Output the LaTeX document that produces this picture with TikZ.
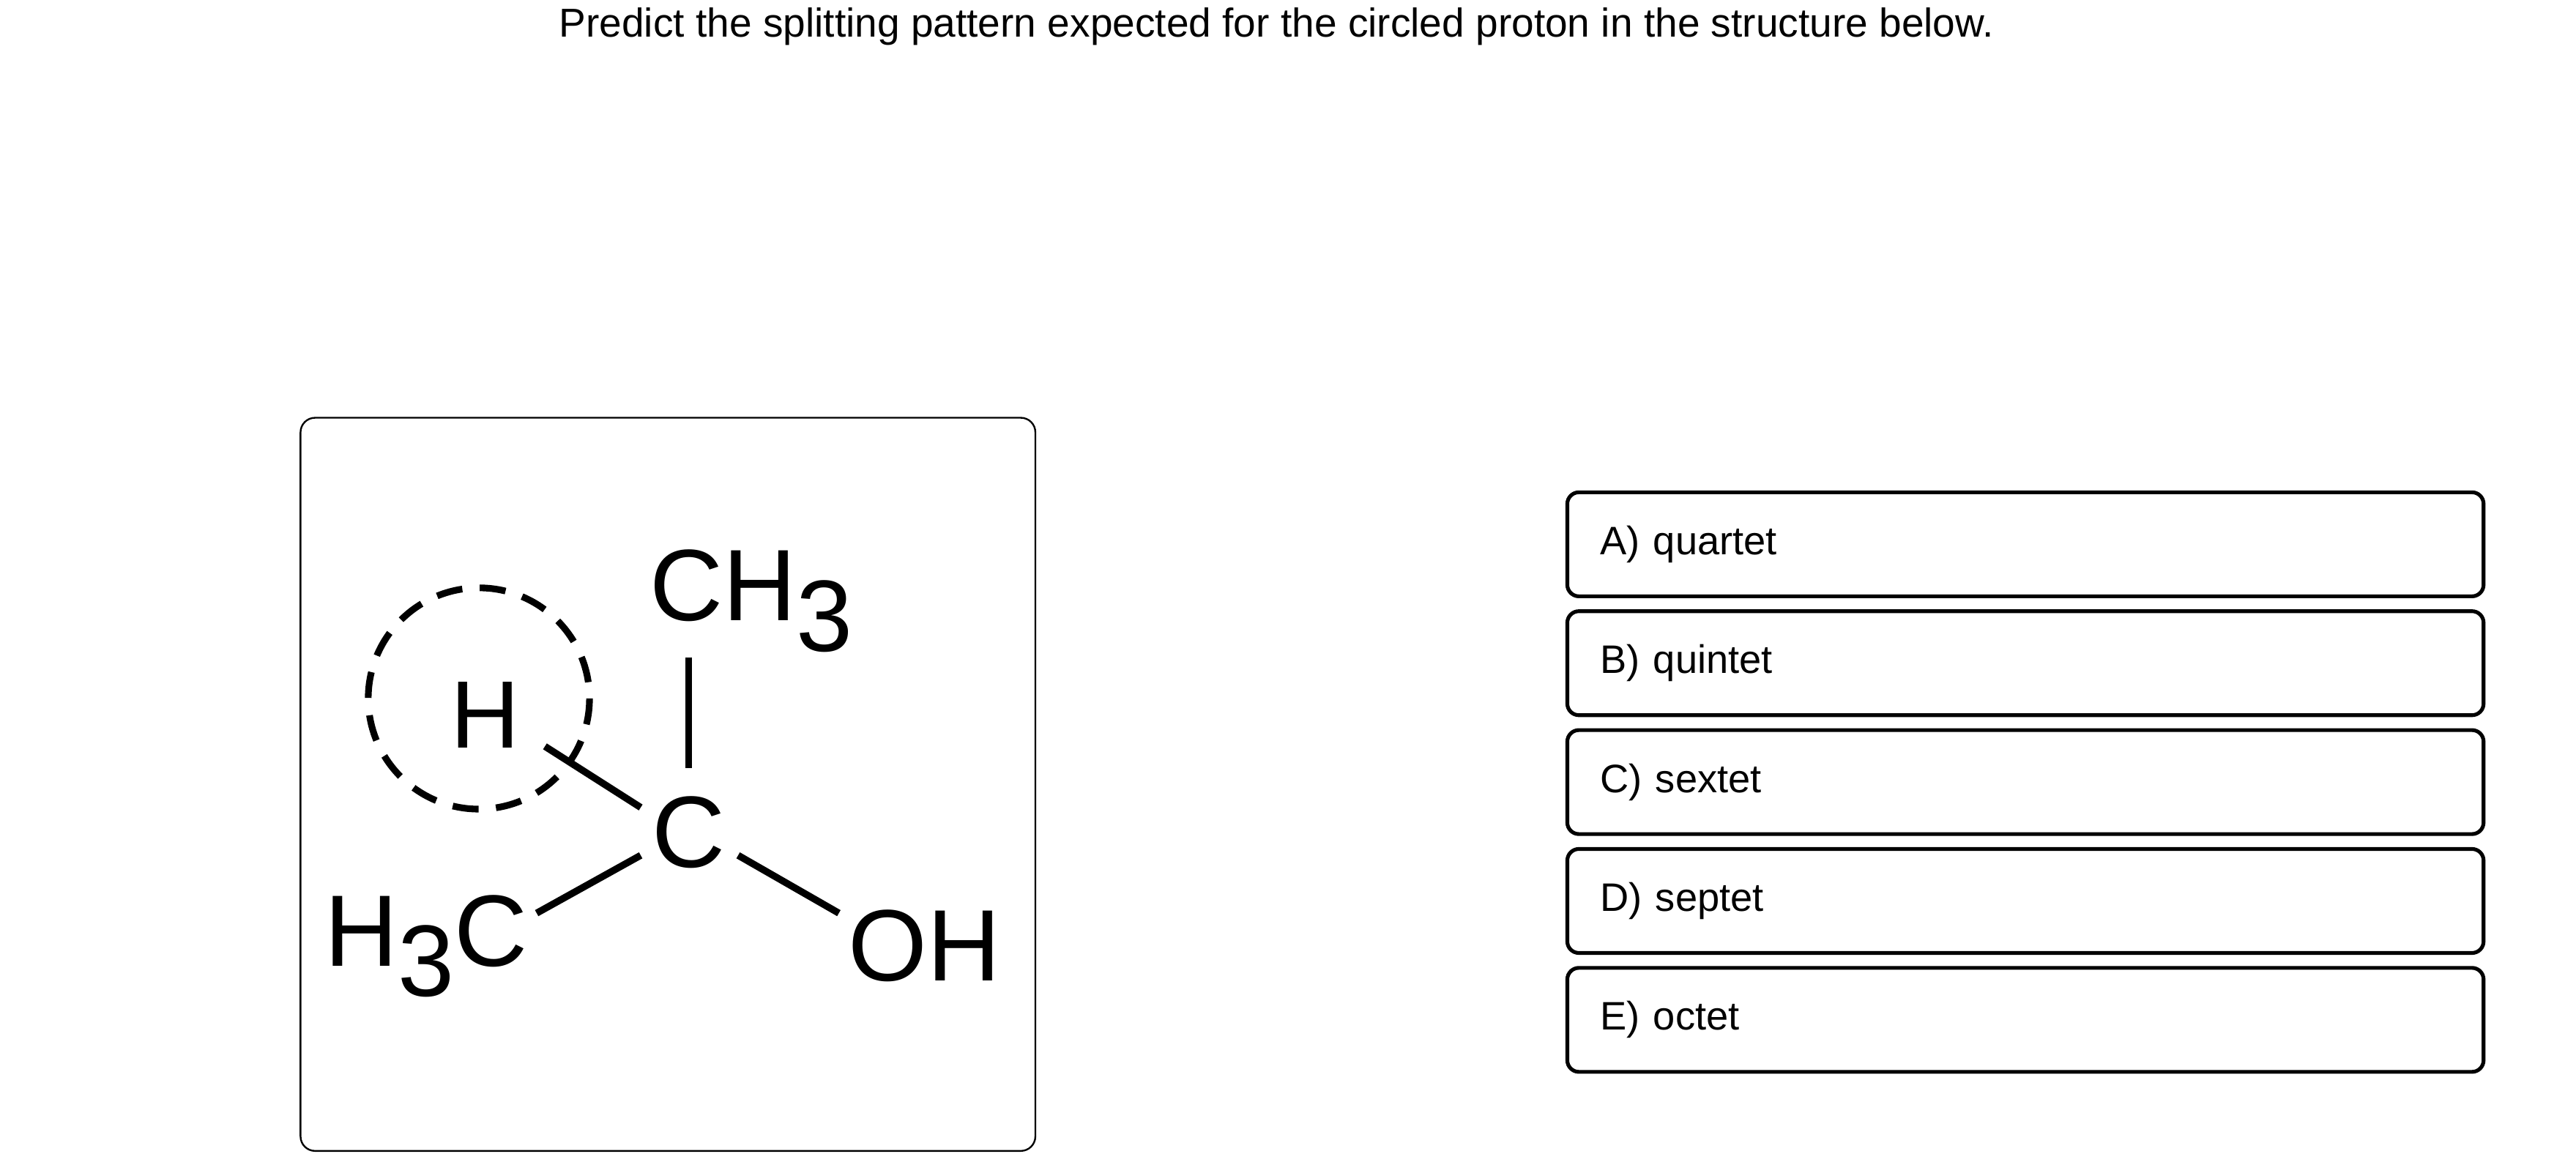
\documentclass[tikz,border=0pt]{standalone}
\usepackage{fontspec}
\setmainfont{Liberation Sans}
\begin{document}
\begin{tikzpicture}[x=0.02cm,y=-0.02cm,
  ans/.style={draw,line width=1.3pt,rounded corners=4pt,minimum width=11.1cm,minimum height=1.26cm,anchor=north west,text width=10.3cm,align=left,font=\fontsize{13.7}{16}\selectfont,inner xsep=0.36cm},
  atom/.style={font=\fontsize{35}{40}\selectfont,inner sep=0pt},
  bond/.style={line width=2.4pt}]
\useasboundingbox (0,0) rectangle (1560,710);
\node[font=\fontsize{13.9}{16}\selectfont] (title) at (773,16) {Predict the splitting pattern expected for the circled proton in the structure below.};
\draw[line width=0.6pt,rounded corners=5pt] (182,253) rectangle (627,697);
\node[atom] (ch3) at (455,364) {CH\raisebox{-0.3em}{3}};
\node[atom,font=\fontsize{33}{36}\selectfont] (h) at (294,433) {H};
\node[atom] (c) at (417,504) {C};
\node[atom] (h3c) at (258,573) {H\raisebox{-0.3em}{3}C};
\node[atom] (oh) at (560,573) {OH};
\coordinate (b1a) at (417,398); \coordinate (b1b) at (417,465);
\draw[bond] (b1a) -- (b1b);
\coordinate (b2a) at (330,452); \coordinate (b2b) at (388,489);
\draw[bond] (b2a) -- (b2b);
\coordinate (b3a) at (388,518); \coordinate (b3b) at (325,553);
\draw[bond] (b3a) -- (b3b);
\coordinate (b4a) at (447,518); \coordinate (b4b) at (508,553);
\draw[bond] (b4a) -- (b4b);
\draw[line width=2.3pt,dash pattern=on 9pt off 6pt] (290,423) circle[radius=67];
\node[ans] (a) at (948,297) {A) quartet};
\node[ans] (b) at (948,369) {B) quintet};
\node[ans] (c2) at (948,441) {C) sextet};
\node[ans] (d) at (948,513) {D) septet};
\node[ans] (e) at (948,585) {E) octet};
\end{tikzpicture}
\end{document}
